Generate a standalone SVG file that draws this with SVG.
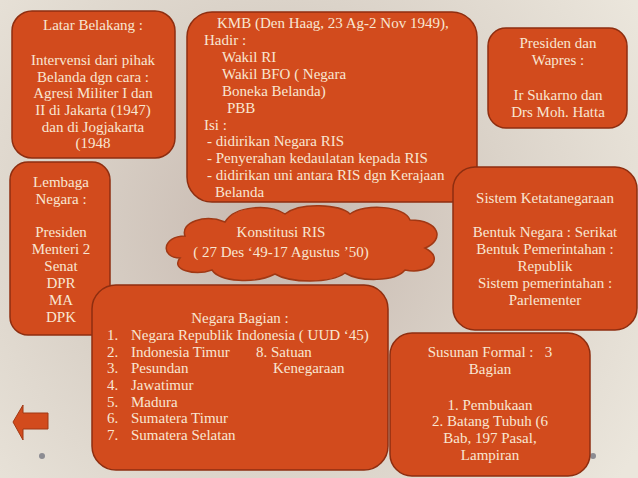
<svg xmlns="http://www.w3.org/2000/svg" width="638" height="478" viewBox="0 0 638 478">
<defs>
<radialGradient id="bg" cx="280" cy="230" r="420" gradientUnits="userSpaceOnUse">
<stop offset="0" stop-color="#c6b7ae"/>
<stop offset="0.55" stop-color="#dbd3c9"/>
<stop offset="1" stop-color="#ebe6dc"/>
</radialGradient>
<style>
.box{fill:#d24b1d;stroke:#8e2e10;stroke-width:1.5}
.t{font-family:"Liberation Serif","DejaVu Serif",serif;font-size:15px;fill:#f8e6d2}
.c{text-anchor:middle}
.dot{fill:#8c8c92}
</style>
</defs>
<rect x="0" y="0" width="638" height="478" fill="url(#bg)"/>
<circle class="dot" cx="42" cy="456" r="3"/>
<circle class="dot" cx="593" cy="456" r="3"/>

<g id="latar">
<rect class="box" x="12" y="11" width="163" height="147" rx="20"/>
<text class="t c"><tspan x="93" y="30">Latar Belakang :</tspan><tspan x="93" y="65">Intervensi dari pihak</tspan><tspan x="93" y="82">Belanda dgn cara :</tspan><tspan x="93" y="98">Agresi Militer I dan</tspan><tspan x="93" y="115">II di Jakarta (1947)</tspan><tspan x="93" y="132">dan di Jogjakarta</tspan><tspan x="93" y="148">(1948</tspan></text>
</g>

<g id="kmb">
<rect class="box" x="187" y="12" width="290" height="190" rx="25"/>
<text class="t"><tspan x="217" y="28">KMB (Den Haag, 23 Ag-2 Nov 1949),</tspan><tspan x="204" y="45">Hadir :</tspan><tspan x="222" y="62">Wakil  RI</tspan><tspan x="222" y="79">Wakil BFO ( Negara</tspan><tspan x="222" y="96">Boneka Belanda)</tspan><tspan x="227" y="113">PBB</tspan><tspan x="204" y="130">Isi :</tspan><tspan x="207" y="146">- didirikan Negara RIS</tspan><tspan x="207" y="163">- Penyerahan kedaulatan kepada RIS</tspan><tspan x="207" y="180">- didirikan uni antara RIS dgn Kerajaan</tspan><tspan x="215" y="197">Belanda</tspan></text>
</g>

<g id="presiden">
<rect class="box" x="488" y="28" width="139" height="100" rx="18"/>
<text class="t c"><tspan x="558" y="48">Presiden dan</tspan><tspan x="558" y="65">Wapres :</tspan><tspan x="558" y="100">Ir Sukarno dan</tspan><tspan x="558" y="117">Drs Moh. Hatta</tspan></text>
</g>

<g id="lembaga">
<rect class="box" x="10" y="162" width="100" height="173" rx="18"/>
<text class="t c"><tspan x="61" y="187">Lembaga</tspan><tspan x="61" y="204">Negara :</tspan><tspan x="61" y="237">Presiden</tspan><tspan x="61" y="254">Menteri 2</tspan><tspan x="61" y="271">Senat</tspan><tspan x="61" y="288">DPR</tspan><tspan x="61" y="305">MA</tspan><tspan x="61" y="322">DPK</tspan></text>
</g>

<g id="konstitusi">
<path fill="#d24b1d" stroke="#a03814" stroke-width="1.5" d="M180,258 C160,258 162,236 185,236 C180,222 205,214 225,222 C235,205 270,204 285,214 C300,202 340,204 350,214 C365,203 405,206 410,220 C440,220 445,240 425,248 C445,258 430,275 405,270 C395,282 360,282 345,273 C330,284 290,283 275,274 C255,284 220,282 212,270 C195,276 170,270 180,258 Z"/>
<text class="t c"><tspan x="281" y="237">Konstitusi RIS</tspan><tspan x="281" y="257">( 27 Des ‘49-17 Agustus ’50)</tspan></text>
</g>

<g id="sistem">
<rect class="box" x="453" y="167" width="184" height="163" rx="22"/>
<text class="t c"><tspan x="545" y="203">Sistem Ketatanegaraan</tspan><tspan x="545" y="237">Bentuk Negara : Serikat</tspan><tspan x="545" y="254">Bentuk Pemerintahan :</tspan><tspan x="545" y="271">Republik</tspan><tspan x="545" y="288">Sistem pemerintahan :</tspan><tspan x="545" y="305">Parlementer</tspan></text>
</g>

<g id="negara-bagian">
<rect class="box" x="92" y="285" width="296" height="185" rx="24"/>
<text class="t"><tspan x="240" y="323" text-anchor="middle">Negara Bagian :</tspan><tspan x="107" y="340">1.</tspan><tspan x="131" y="340">Negara Republik Indonesia ( UUD ‘45)</tspan><tspan x="107" y="357">2.</tspan><tspan x="131" y="357">Indonesia Timur</tspan><tspan x="256" y="357">8. Satuan</tspan><tspan x="107" y="373">3.</tspan><tspan x="131" y="373">Pesundan</tspan><tspan x="273" y="373">Kenegaraan</tspan><tspan x="107" y="390">4.</tspan><tspan x="131" y="390">Jawatimur</tspan><tspan x="107" y="407">5.</tspan><tspan x="131" y="407">Madura</tspan><tspan x="107" y="423">6.</tspan><tspan x="131" y="423">Sumatera Timur</tspan><tspan x="107" y="440">7.</tspan><tspan x="131" y="440">Sumatera Selatan</tspan></text>
</g>

<g id="susunan">
<rect class="box" x="390" y="333" width="200" height="143" rx="22"/>
<text class="t c"><tspan x="490" y="357" xml:space="preserve">Susunan Formal :   3</tspan><tspan x="490" y="374">Bagian</tspan><tspan x="490" y="410">1. Pembukaan</tspan><tspan x="490" y="426">2. Batang Tubuh (6</tspan><tspan x="490" y="443">Bab, 197 Pasal,</tspan><tspan x="490" y="460">Lampiran</tspan></text>
</g>

<g id="back-arrow">
<polygon fill="#d24b1d" stroke="#a03814" stroke-width="1" points="13,422 23,405 23,413 48,413 48,429 23,429 23,440"/>
</g>
</svg>
